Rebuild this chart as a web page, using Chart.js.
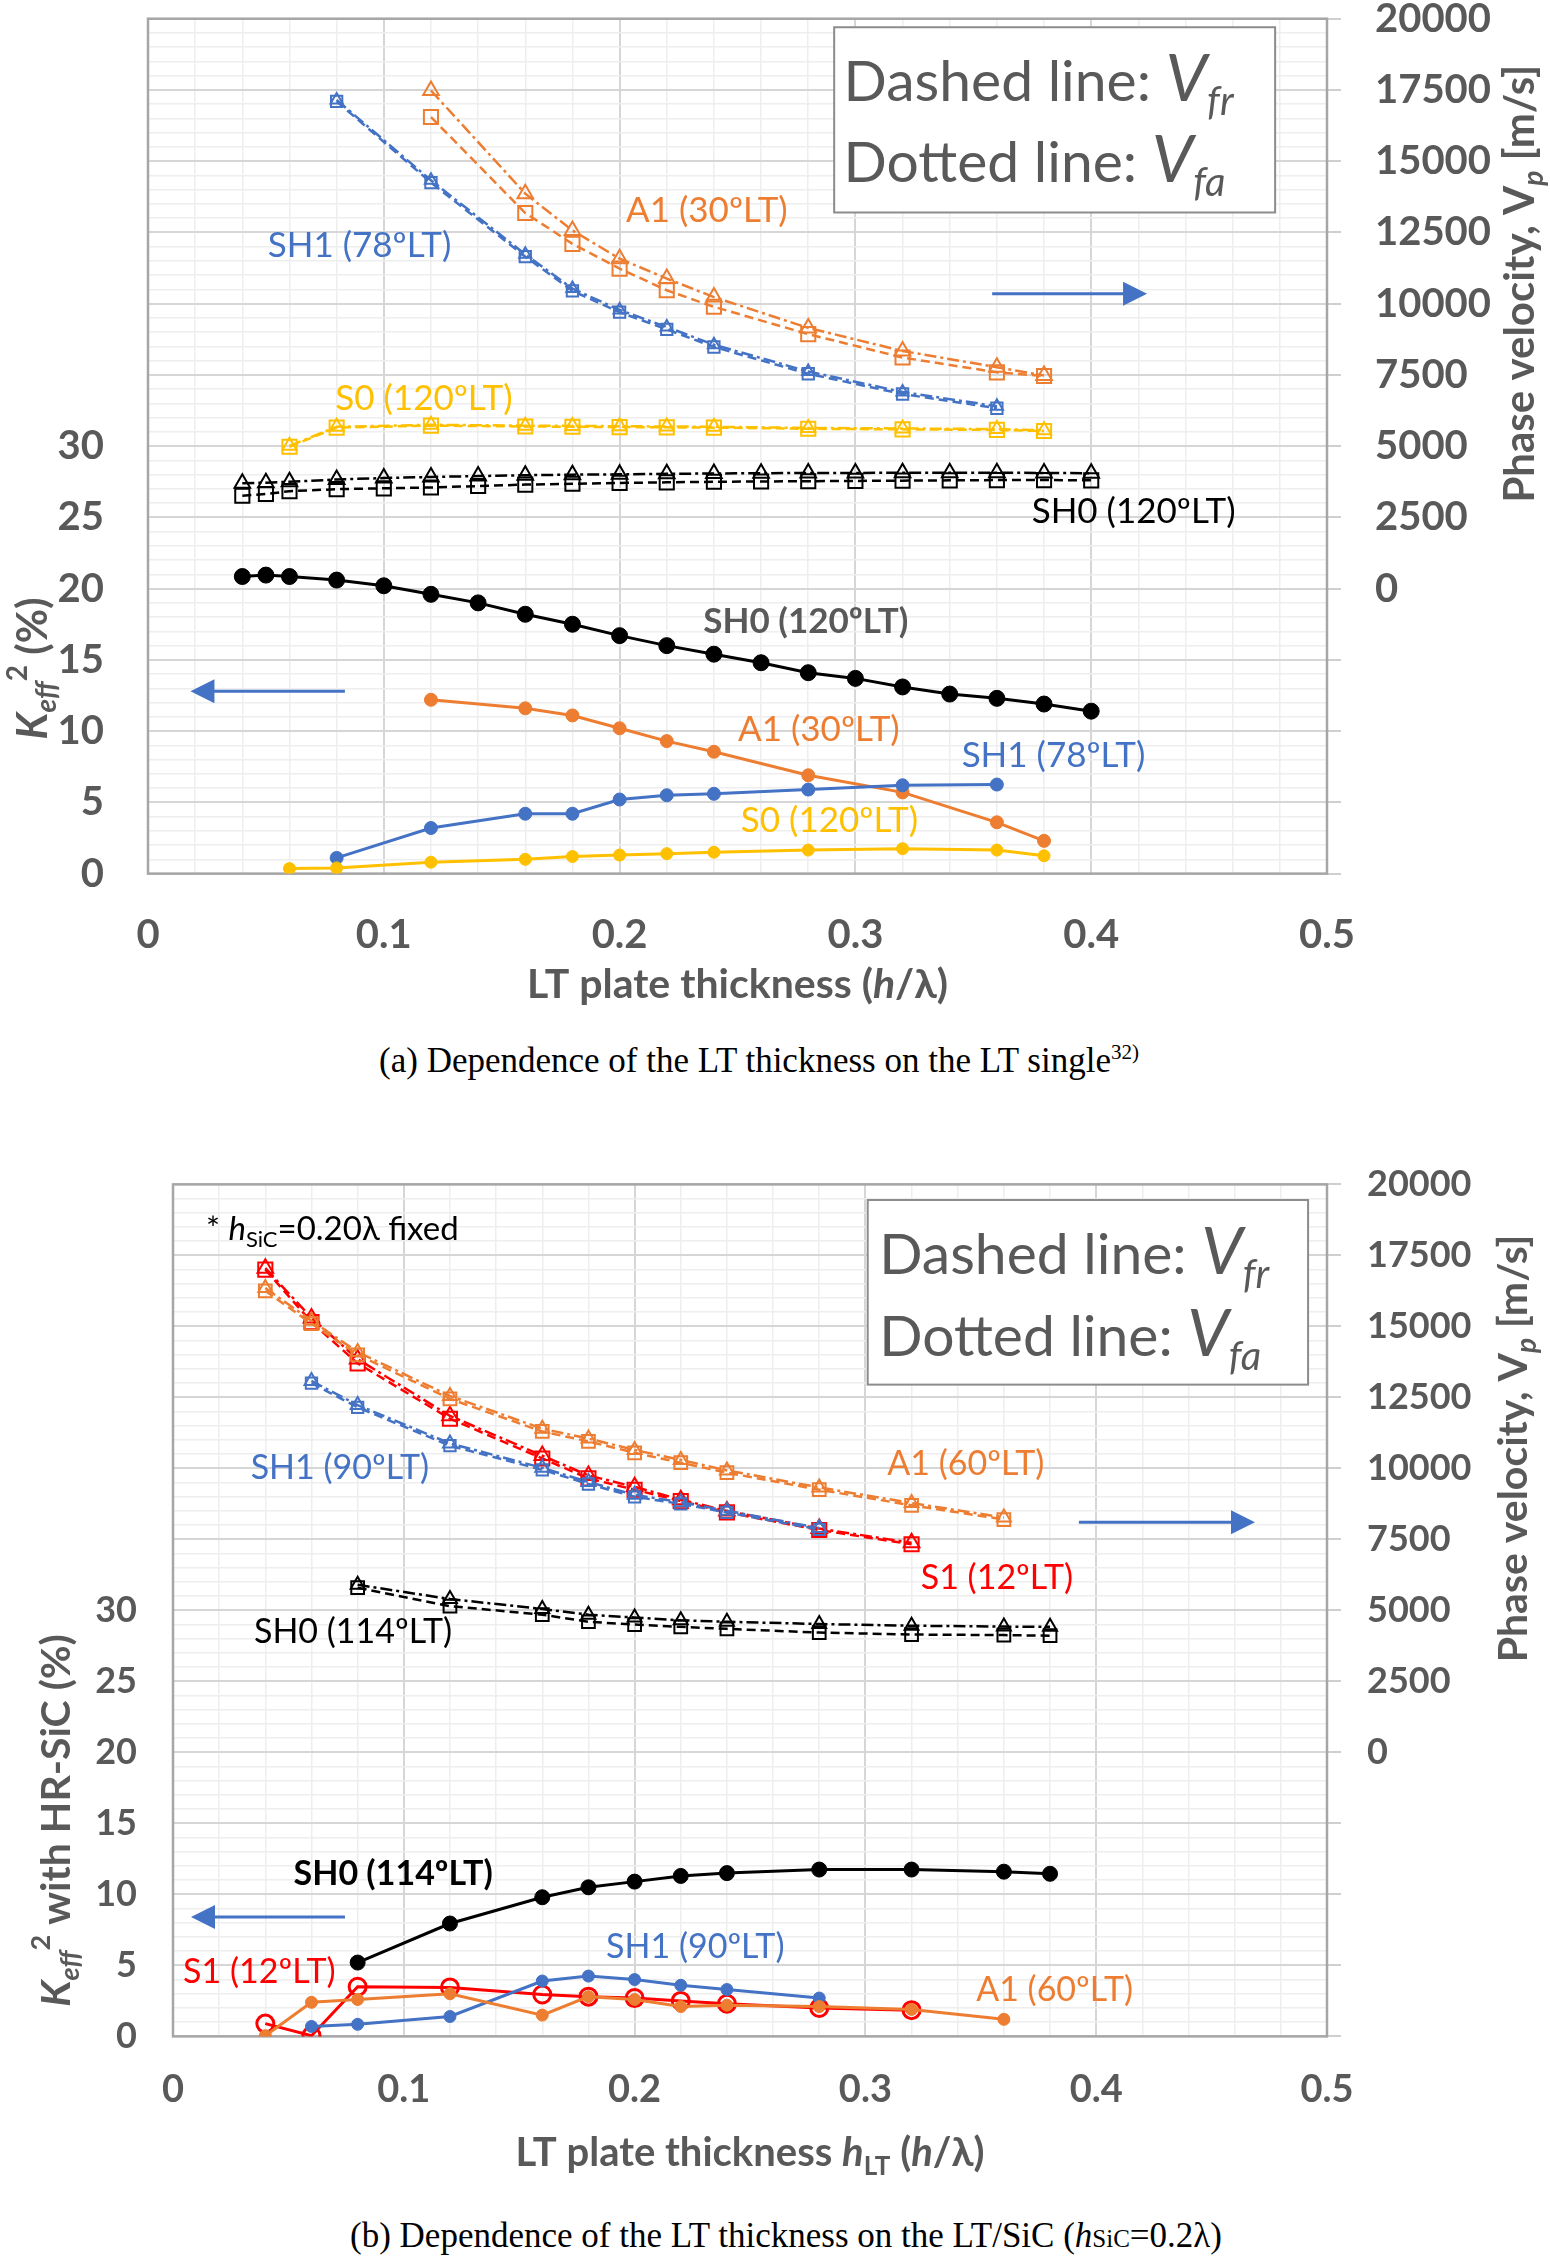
<!DOCTYPE html>
<html>
<head>
<meta charset="utf-8">
<script src="https://cdn.jsdelivr.net/npm/chart.js@4.4.0/dist/chart.umd.min.js"></script>
<style>
body { margin: 0; background: #fff; width: 1550px; height: 2257px; position: relative; overflow: hidden; }
.wrap { position: absolute; left: 0; width: 1550px; }
.cap { position: absolute; font-family: 'Liberation Serif', 'Times New Roman', serif; font-size: 35px; color: #000; white-space: nowrap; transform: translateX(-50%); }
.cap sup { font-size: 21px; }
.cap sub { font-size: 25px; vertical-align: 0; }
</style>
</head>
<body>
<div class="wrap" style="top:0px;height:1010px"><canvas id="chartA" width="1550" height="1010"></canvas></div>
<div class="cap" style="left:759px;top:1040px">(a) Dependence of the LT thickness on the LT single<sup>32)</sup></div>
<div class="wrap" style="top:1150px;height:1030px"><canvas id="chartB" width="1550" height="1030"></canvas></div>
<div class="cap" style="left:786px;top:2216px">(b) Dependence of the LT thickness on the LT/SiC (<i>h</i><sub>SiC</sub>=0.2λ)</div>
<script>
// ---- (a) LT single ----
const aX_SH0 = [0.04, 0.05, 0.06, 0.08, 0.10, 0.12, 0.14, 0.16, 0.18, 0.20, 0.22, 0.24, 0.26, 0.28, 0.30, 0.32, 0.34, 0.36, 0.38, 0.40];
const aK_SH0 = [20.85, 20.95, 20.85, 20.6, 20.2, 19.6, 19.0, 18.2, 17.5, 16.7, 16.0, 15.4, 14.8, 14.1, 13.7, 13.1, 12.6, 12.3, 11.9, 11.4];
const aVfr_SH0 = [3260, 3320, 3420, 3490, 3520, 3550, 3600, 3650, 3680, 3710, 3730, 3750, 3760, 3770, 3780, 3790, 3800, 3810, 3810, 3800];
const aVfa_SH0 = [3700, 3720, 3750, 3830, 3880, 3920, 3950, 3980, 4000, 4010, 4030, 4040, 4050, 4060, 4060, 4070, 4070, 4070, 4060, 4050];

const aX_A1 = [0.12, 0.16, 0.18, 0.20, 0.22, 0.24, 0.28, 0.32, 0.36, 0.38];
const aK_A1 = [12.2, 11.6, 11.1, 10.2, 9.3, 8.55, 6.9, 5.7, 3.6, 2.3];
const aVfr_A1 = [16550, 13180, 12100, 11230, 10470, 9890, 8930, 8110, 7590, 7460];
const aVfa_A1 = [17480, 13860, 12570, 11580, 10880, 10230, 9150, 8340, 7770, 7480];

const aX_SH1 = [0.08, 0.12, 0.16, 0.18, 0.20, 0.22, 0.24, 0.28, 0.32, 0.36];
const aK_SH1 = [1.1, 3.2, 4.2, 4.2, 5.2, 5.5, 5.6, 5.9, 6.2, 6.25];
const aVfr_SH1 = [17100, 14250, 11650, 10450, 9700, 9100, 8480, 7540, 6830, 6330];
const aVfa_SH1 = [17150, 14330, 11730, 10530, 9780, 9180, 8560, 7620, 6900, 6400];

const aX_S0 = [0.06, 0.08, 0.12, 0.16, 0.18, 0.20, 0.22, 0.24, 0.28, 0.32, 0.36, 0.38];
const aK_S0 = [0.35, 0.4, 0.8, 1.0, 1.2, 1.3, 1.4, 1.5, 1.65, 1.75, 1.65, 1.25];
const aVfr_S0 = [4980, 5650, 5720, 5690, 5680, 5670, 5660, 5650, 5610, 5590, 5570, 5530];
const aVfa_S0 = [5010, 5680, 5750, 5720, 5710, 5700, 5690, 5680, 5640, 5620, 5600, 5560];

// ---- (b) LT/SiC, hSiC = 0.2 lambda ----
const bX_SH0 = [0.08, 0.12, 0.16, 0.18, 0.20, 0.22, 0.24, 0.28, 0.32, 0.36, 0.38];
const bK_SH0 = [5.2, 7.95, 9.8, 10.5, 10.9, 11.3, 11.5, 11.75, 11.75, 11.6, 11.45];
const bVfr_SH0 = [5800, 5150, 4850, 4600, 4500, 4420, 4350, 4220, 4150, 4130, 4110];
const bVfa_SH0 = [5900, 5400, 5050, 4850, 4750, 4650, 4600, 4520, 4460, 4430, 4420];

const bX_SH1 = [0.06, 0.08, 0.12, 0.16, 0.18, 0.20, 0.22, 0.24, 0.28];
const bK_SH1 = [0.7, 0.85, 1.4, 3.9, 4.25, 4.0, 3.6, 3.3, 2.7];
const bVfr_SH1 = [13000, 12150, 10800, 9950, 9450, 9000, 8750, 8450, 7850];
const bVfa_SH1 = [13080, 12230, 10880, 10020, 9520, 9070, 8810, 8510, 7900];

const bX_A1 = [0.04, 0.06, 0.08, 0.12, 0.16, 0.18, 0.20, 0.22, 0.24, 0.28, 0.32, 0.36];
const bK_A1 = [0.05, 2.4, 2.6, 3.0, 1.5, 2.8, 2.6, 2.1, 2.2, 2.1, 1.9, 1.2];
const bVfr_A1 = [16250, 15100, 14000, 12450, 11300, 10950, 10550, 10200, 9850, 9250, 8700, 8200];
const bVfa_A1 = [16350, 15200, 14100, 12550, 11400, 11050, 10650, 10300, 9930, 9330, 8780, 8270];

const bX_S1 = [0.04, 0.06, 0.08, 0.12, 0.16, 0.18, 0.20, 0.22, 0.24, 0.28, 0.32];
const bK_S1 = [0.9, 0.05, 3.5, 3.45, 2.95, 2.8, 2.7, 2.5, 2.3, 2.0, 1.85];
const bVfr_S1 = [17000, 15150, 13700, 11750, 10350, 9650, 9250, 8850, 8450, 7830, 7330];
const bVfa_S1 = [17050, 15300, 13850, 11850, 10450, 9750, 9350, 8900, 8500, 7880, 7380];

// axis ranges
const xTicks = [0, 0.5, 0.02];
const kTicks = [0, 60, 1];          // only 0..30 labelled
const vTicks = [-10000, 20000, 2500]; // only >= 0 labelled

const BLUE = '#4472C4', ORANGE = '#ED7D31', YELLOW = '#FFC000', RED = '#FF0000', BLACK = '#000000', GRAY = '#595959';
const FONT = 'Lato, "Noto Sans", sans-serif';
const DASH = [9, 5];        // Vfr
const DOT = [12, 4, 3, 4];  // Vfa

function pts(xs, ys) { return xs.map((x, i) => ({ x: x, y: ys[i] })); }

function kLine(xs, ys, color, r, open) {
    return { data: pts(xs, ys), yAxisID: 'y', showLine: true, borderColor: color, borderWidth: 3,
        pointStyle: 'circle', pointRadius: r, pointBorderColor: color,
        pointBackgroundColor: open ? 'rgba(255,255,255,0)' : color, pointBorderWidth: open ? 3 : 1 };
}
function vLine(xs, ys, color, marker, dash, r) {
    return { data: pts(xs, ys), yAxisID: 'y1', showLine: true, borderColor: color, borderWidth: 2.5, borderDash: dash,
        pointStyle: marker, pointRadius: r, pointBorderColor: color,
        pointBackgroundColor: 'rgba(255,255,255,0)', pointBorderWidth: 2 };
}

function rich(ctx, parts, x, y, color, align, rot) {
    ctx.save();
    ctx.translate(x, y);
    if (rot) ctx.rotate(rot);
    ctx.fillStyle = color;
    ctx.textBaseline = 'alphabetic';
    ctx.textAlign = 'left';
    let w = 0;
    parts.forEach(p => { ctx.font = p[1]; w += ctx.measureText(p[0]).width; });
    let cx = align === 'center' ? -w / 2 : 0;
    parts.forEach(p => {
        ctx.font = p[1];
        ctx.fillText(p[0], cx, p[2] || 0);
        cx += ctx.measureText(p[0]).width;
    });
    ctx.restore();
}

function arrow(ctx, x1, x2, y) {
    const dir = x2 > x1 ? 1 : -1;
    ctx.save();
    ctx.strokeStyle = BLUE; ctx.fillStyle = BLUE; ctx.lineWidth = 3;
    ctx.beginPath(); ctx.moveTo(x1, y); ctx.lineTo(x2 - dir * 20, y); ctx.stroke();
    ctx.beginPath(); ctx.moveTo(x2, y); ctx.lineTo(x2 - dir * 24, y - 12); ctx.lineTo(x2 - dir * 24, y + 12); ctx.closePath(); ctx.fill();
    ctx.restore();
}

function deco(cfg) {
    return {
        id: 'deco',
        beforeDatasetsDraw(chart) {
            const { ctx, chartArea: a } = chart;
            ctx.save();
            ctx.strokeStyle = '#a6a6a6'; ctx.lineWidth = 2.5;
            ctx.strokeRect(a.left, a.top, a.right - a.left, a.bottom - a.top);
            ctx.restore();
        },
        afterDatasetsDraw(chart) {
            const { ctx, chartArea: a } = chart;
            const X = v => chart.scales.x.getPixelForValue(v);
            const Y = v => chart.scales.y.getPixelForValue(v);
            // legend box
            const b = cfg.box;
            ctx.save();
            ctx.fillStyle = '#fff'; ctx.strokeStyle = '#8c8c8c'; ctx.lineWidth = 2;
            ctx.fillRect(X(b[0]), Y(b[1]), X(b[2]) - X(b[0]), Y(b[3]) - Y(b[1]));
            ctx.strokeRect(X(b[0]), Y(b[1]), X(b[2]) - X(b[0]), Y(b[3]) - Y(b[1]));
            ctx.restore();
            rich(ctx, [['Dashed line: ', '57px ' + FONT], ['V', 'italic 66px ' + FONT], ['fr', 'italic 40px ' + FONT, 14]], X(b[4]), Y(b[5]), GRAY, 'left');
            rich(ctx, [['Dotted line: ', '57px ' + FONT], ['V', 'italic 66px ' + FONT], ['fa', 'italic 40px ' + FONT, 14]], X(b[4]), Y(b[6]), GRAY, 'left');
            // series labels
            ctx.save();
            ctx.textAlign = 'center'; ctx.textBaseline = 'middle';
            cfg.labels.forEach(l => {
                ctx.font = l[4] + ' ' + cfg.labelSize + 'px ' + FONT;
                ctx.fillStyle = l[3];
                ctx.fillText(l[0], X(l[1]), Y(l[2]));
            });
            ctx.restore();
            if (cfg.note) rich(ctx, cfg.note.parts, X(cfg.note.x), Y(cfg.note.y) + 12, BLACK, 'left');
            cfg.arrows.forEach(r => arrow(ctx, X(r[0]), X(r[1]), Y(r[2])));
            // axis titles
            rich(ctx, cfg.xTitle, (a.left + a.right) / 2, a.bottom + cfg.xTitleOff, GRAY, 'center');
            rich(ctx, cfg.yTitle, cfg.yTitleX, Y(cfg.yTitleAt), GRAY, 'center', -Math.PI / 2);
            rich(ctx, cfg.y1Title, cfg.y1TitleX, Y(cfg.y1TitleAt), GRAY, 'center', -Math.PI / 2);
        }
    };
}

const isMajorX = v => Math.abs(v * 10 - Math.round(v * 10)) < 1e-6;

function build(id, g, datasets, cfg) {
    const tf = s => ({ family: FONT, size: s, weight: 'bold' });
    return new Chart(document.getElementById(id), {
        type: 'scatter',
        data: { datasets: datasets },
        plugins: [deco(cfg)],
        options: {
            responsive: false, animation: false,
            layout: { padding: { top: g.top, left: 0, right: 0, bottom: 0 } },
            plugins: { legend: { display: false }, tooltip: { enabled: false } },
            scales: {
                x: {
                    type: 'linear', min: xTicks[0], max: xTicks[1],
                    ticks: { stepSize: xTicks[2], autoSkip: false, maxRotation: 0, padding: g.xPad, color: GRAY, font: tf(g.xFont),
                        callback: v => (isMajorX(v) ? String(Math.round(v * 10) / 10) : '') },
                    grid: { drawTicks: false, color: c => (isMajorX(c.tick.value) ? '#d6d6d6' : '#eeeeee'),
                        lineWidth: c => (isMajorX(c.tick.value) ? 2 : 1.5) },
                    border: { display: false },
                    afterFit: s => { s.height = g.xH; s.paddingLeft = 0; s.paddingRight = 0; }
                },
                y: {
                    position: 'left', min: kTicks[0], max: kTicks[1],
                    ticks: { stepSize: kTicks[2], autoSkip: false, padding: g.yPad, color: GRAY, font: tf(g.yFont),
                        callback: v => (v % 5 === 0 && v <= 30 ? v : '') },
                    grid: { drawTicks: false, color: c => (c.tick.value % 5 === 0 ? '#d6d6d6' : '#eeeeee'),
                        lineWidth: c => (c.tick.value % 5 === 0 ? 2 : 1.5) },
                    border: { display: false },
                    afterFit: s => { s.width = g.yW; s.paddingTop = 0; s.paddingBottom = 0; }
                },
                y1: {
                    position: 'right', min: vTicks[0], max: vTicks[1],
                    ticks: { stepSize: vTicks[2], autoSkip: false, padding: g.y1Pad, color: GRAY, font: tf(g.y1Font),
                        callback: v => (v >= 0 ? v : '') },
                    grid: { drawOnChartArea: false, drawTicks: true, tickLength: 14, color: '#cfcfcf', lineWidth: 2 },
                    border: { display: false },
                    afterFit: s => { s.width = g.y1W; s.paddingTop = 0; s.paddingBottom = 0; }
                }
            }
        }
    });
}

const B = s => 'bold ' + s + 'px ' + FONT;
const BI = s => 'bold italic ' + s + 'px ' + FONT;

build('chartA',
    { top: 18.7, xH: 1010 - 873.6, yW: 148, y1W: 1550 - 1327, xPad: 37, yPad: 44, y1Pad: 34, xFont: 40, yFont: 40, y1Font: 40 },
    [
        vLine(aX_SH0, aVfa_SH0, BLACK, 'triangle', DOT, 9),
        vLine(aX_SH0, aVfr_SH0, BLACK, 'rect', DASH, 10),
        vLine(aX_S0, aVfa_S0, YELLOW, 'triangle', DOT, 8),
        vLine(aX_S0, aVfr_S0, YELLOW, 'rect', DASH, 10),
        vLine(aX_SH1, aVfa_SH1, BLUE, 'triangle', DOT, 7),
        vLine(aX_SH1, aVfr_SH1, BLUE, 'rect', DASH, 8),
        vLine(aX_A1, aVfa_A1, ORANGE, 'triangle', DOT, 9),
        vLine(aX_A1, aVfr_A1, ORANGE, 'rect', DASH, 10),
        kLine(aX_S0, aK_S0, YELLOW, 6),
        kLine(aX_SH1, aK_SH1, BLUE, 6.5),
        kLine(aX_A1, aK_A1, ORANGE, 6.5),
        kLine(aX_SH0, aK_SH0, BLACK, 8)
    ],
    {
        box: [0.291, 59.4, 0.478, 46.4, 0.295, 54.24, 48.53],
        labelSize: 35,
        labels: [
            ['SH1 (78ºLT)', 0.0897, 44.1, BLUE, 'normal'],
            ['A1 (30ºLT)', 0.237, 46.5, ORANGE, 'normal'],
            ['S0 (120ºLT)', 0.117, 33.3, YELLOW, 'normal'],
            ['SH0 (120ºLT)', 0.418, 25.4, BLACK, 'normal'],
            ['SH0 (120ºLT)', 0.279, 17.7, GRAY, 'bold'],
            ['A1 (30ºLT)', 0.2845, 10.1, ORANGE, 'normal'],
            ['SH1 (78ºLT)', 0.384, 8.3, BLUE, 'normal'],
            ['S0 (120ºLT)', 0.289, 3.7, YELLOW, 'normal']
        ],
        arrows: [[0.358, 0.4237, 40.7], [0.0835, 0.018, 12.8]],
        xTitle: [['LT plate thickness (', B(41)], ['h', BI(41)], ['/λ)', B(41)]],
        xTitleOff: 124,
        yTitle: [['K', BI(42)], ['eff', BI(28), 9], ['2', B(28), -20], [' (%)', B(42)]],
        yTitleX: 47, yTitleAt: 14.4,
        y1Title: [['Phase velocity, V', B(42)], ['p', BI(28), 9], [' [m/s]', B(42)]],
        y1TitleX: 1534, y1TitleAt: 41.4
    });

build('chartB',
    { top: 34.4, xH: 1030 - 886.4, yW: 173, y1W: 1550 - 1327, xPad: 31, yPad: 36, y1Pad: 26, xFont: 38, yFont: 36, y1Font: 36 },
    [
        vLine(bX_SH0, bVfa_SH0, BLACK, 'triangle', DOT, 8),
        vLine(bX_SH0, bVfr_SH0, BLACK, 'rect', DASH, 9),
        vLine(bX_SH1, bVfa_SH1, BLUE, 'triangle', DOT, 8),
        vLine(bX_SH1, bVfr_SH1, BLUE, 'rect', DASH, 8),
        vLine(bX_A1, bVfa_A1, ORANGE, 'triangle', DOT, 8),
        vLine(bX_A1, bVfr_A1, ORANGE, 'rect', DASH, 9),
        vLine(bX_S1, bVfa_S1, RED, 'triangle', DOT, 9),
        vLine(bX_S1, bVfr_S1, RED, 'rect', DASH, 10),
        kLine(bX_A1, bK_A1, ORANGE, 6),
        kLine(bX_SH1, bK_SH1, BLUE, 6),
        kLine(bX_SH0, bK_SH0, BLACK, 7.5),
        kLine(bX_S1, bK_S1, RED, 8.5, true)
    ],
    {
        box: [0.301, 58.9, 0.4918, 45.9, 0.306, 53.71, 47.92],
        labelSize: 34,
        labels: [
            ['SH1 (90ºLT)', 0.0723, 40.0, BLUE, 'normal'],
            ['A1 (60ºLT)', 0.3435, 40.3, ORANGE, 'normal'],
            ['S1 (12ºLT)', 0.357, 32.3, RED, 'normal'],
            ['SH0 (114ºLT)', 0.078, 28.5, BLACK, 'normal'],
            ['SH0 (114ºLT)', 0.0954, 11.4, BLACK, 'bold'],
            ['SH1 (90ºLT)', 0.2263, 6.3, BLUE, 'normal'],
            ['S1 (12ºLT)', 0.0374, 4.5, RED, 'normal'],
            ['A1 (60ºLT)', 0.382, 3.3, ORANGE, 'normal']
        ],
        note: { x: 0.0143, y: 56.9, parts: [['* ', '33px ' + FONT], ['h', 'italic 33px ' + FONT], ['SiC', '22px ' + FONT, 7], ['=0.20λ fixed', '33px ' + FONT]] },
        arrows: [[0.3925, 0.4688, 36.2], [0.0745, 0.0078, 8.4]],
        xTitle: [['LT plate thickness ', B(40)], ['h', BI(40)], ['LT', B(26), 9], [' (', B(40)], ['h', BI(40)], ['/λ)', B(40)]],
        xTitleOff: 130,
        yTitle: [['K', BI(41)], ['eff', BI(27), 9], ['2', B(27), -20], [' with HR-SiC (%)', B(41)]],
        yTitleX: 70, yTitleAt: 15.2,
        y1Title: [['Phase velocity, V', B(41)], ['p', BI(28), 9], [' [m/s]', B(41)]],
        y1TitleX: 1527, y1TitleAt: 41.4
    });
</script>
</body>
</html>
